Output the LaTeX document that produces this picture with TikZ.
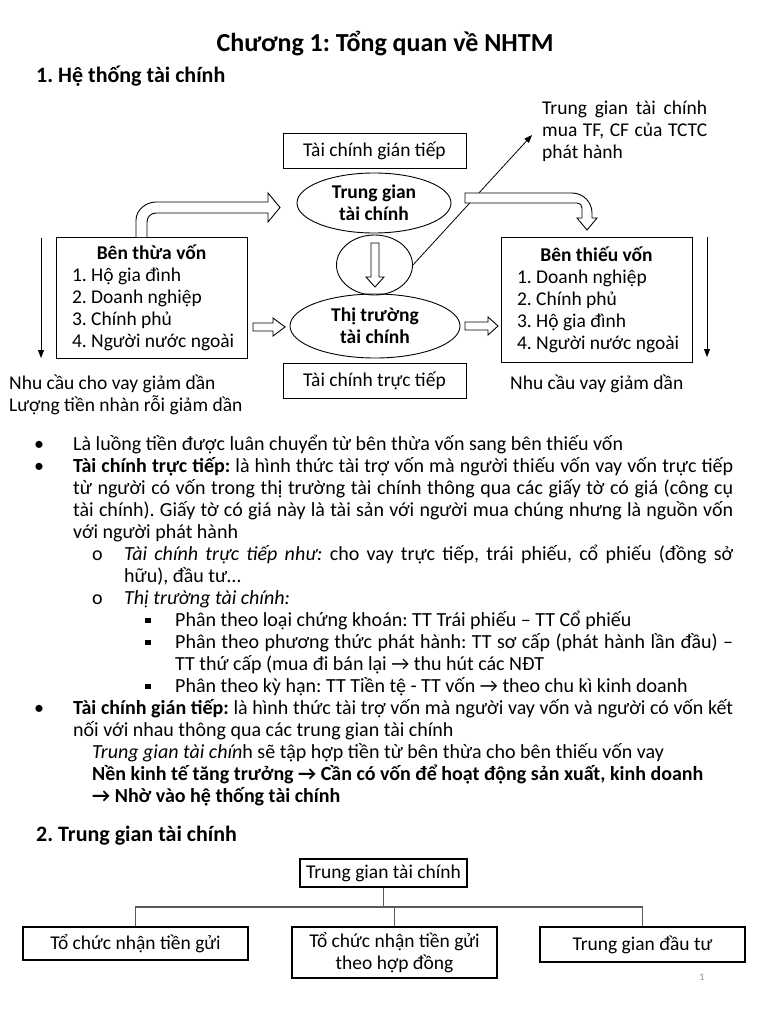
\documentclass[tikz,border=0pt]{standalone}
\usepackage{fontspec}
\setmainfont{Carlito}
\usetikzlibrary{shapes.geometric,arrows.meta}
\frenchspacing
\newcommand\jl[2]{\par\noindent\hspace*{#1}\makebox[\dimexpr733pt-#1\relax][s]{#2}}
\newcommand\pl[2]{\par\noindent\hspace*{#1}#2}
\newcommand\bdot{\llap{\makebox[39pt][l]{•}}}
\newcommand\bcirc{\llap{\makebox[32pt][l]{o}}}
\newcommand\bsq{\llap{\makebox[30pt][l]{\raisebox{3pt}{\rule{5.5pt}{5.5pt}}}}}
\newcommand\listtext[2]{\parbox{179pt}{\centering\textbf{#1}\par\raggedright\leftskip=10pt #2}}
\begin{document}
\begin{tikzpicture}[x=1pt,y=-1pt,
  dtext/.style={font=\fontsize{19.5}{22}\selectfont\frenchspacing},
  plainbox/.style={draw, line width=0.9pt, inner sep=0pt, dtext},
  listbox/.style={draw, line width=0.9pt, inner sep=0pt, dtext},
  oval/.style={ellipse, draw, line width=0.9pt, inner sep=0pt, align=center, font=\fontsize{19.5}{22}\selectfont\bfseries},
  hollow/.style={draw, line width=0.9pt, fill=white, line join=miter},
  thinarrow/.style={-{Triangle[length=8pt,width=6pt]}, line width=0.8pt},
  orgbox/.style={draw, line width=1.5pt, inner sep=0pt, align=center, dtext},
  orgline/.style={draw=black!65, line width=1.2pt}]
\useasboundingbox (0,0) rectangle (768,1024);
\fill[white] (0,0) rectangle (768,1024);

% headings
\node[anchor=base, inner sep=0pt, font=\fontsize{26}{30}\selectfont\bfseries] (title) at (385,52) {Chương 1: Tổng quan về NHTM};
\node[anchor=base west, inner sep=0pt, font=\fontsize{22}{26}\selectfont\bfseries] (h1) at (36,83) {1. Hệ thống tài chính};

% diagram 1
\node[plainbox, minimum width=183pt, minimum height=35pt] (gt) at (374.5,150.5) {Tài chính gián tiếp};
\node[plainbox, minimum width=183pt, minimum height=35pt] (tt) at (374.5,380.5) {Tài chính trực tiếp};
\node[oval, minimum width=154pt, minimum height=60pt] (tg) at (374,203) {Trung gian\\tài chính};
\node[ellipse, draw, line width=0.9pt, minimum width=76pt, minimum height=60pt, inner sep=0pt] (circ) at (374.5,265) {};
\node[oval, minimum width=170pt, minimum height=64pt] (ttc) at (375,326) {Thị trường\\tài chính};

\node[listbox, minimum width=191pt, minimum height=121pt] (thua) at (151.5,297.5)
  {\listtext{Bên thừa vốn}{1. Hộ gia đình\\2. Doanh nghiệp\\3. Chính phủ\\4. Người nước ngoài}};
\node[listbox, minimum width=191pt, minimum height=125pt] (thieu) at (596.5,299.5)
  {\listtext{Bên thiếu vốn}{1. Doanh nghiệp\\2. Chính phủ\\3. Hộ gia đình\\4. Người nước ngoài}};

\node[anchor=base west, inner sep=0pt, dtext, align=left] (lbl1) at (9,411) {Nhu cầu cho vay giảm dần\\Lượng tiền nhàn rỗi giảm dần};
\node[anchor=base west, inner sep=0pt, dtext] (lbl2) at (510,389) {Nhu cầu vay giảm dần};
\node[anchor=base west, inner sep=0pt, dtext, align=left] (note) at (542,159)
  {\makebox[165pt][s]{Trung gian tài chính}\\\makebox[165pt][s]{mua TF, CF của TCTC}\\phát hành};

% thin arrows
\coordinate (la1) at (41,238); \coordinate (la2) at (41,358);
\coordinate (ra1) at (707,237); \coordinate (ra2) at (707,357);
\coordinate (tip) at (532,135);
\draw[thinarrow] (la1) -- (la2);
\draw[thinarrow] (ra1) -- (ra2);
\draw[thinarrow] (circ.east) -- (tip);

% hollow block arrows
\draw[hollow] (136,237) -- (136,220) .. controls (136,210) and (146,202) .. (156,202) -- (268,202) -- (268,193) -- (280,207.5) -- (268,222) -- (268,213) -- (156,213) .. controls (151,213) and (147,217) .. (147,222) -- (147,237);
\draw[hollow] (465,193) -- (572,193) .. controls (583,193) and (592,202) .. (592,213) -- (592,218) -- (597,218) -- (587,230) -- (577,218) -- (582,218) -- (582,208) .. controls (582,205) and (580,203) .. (577,203) -- (465,203) -- cycle;
\draw[hollow] (371,243) -- (379,243) -- (379,277) -- (384,277) -- (375,287) -- (366,277) -- (371,277) -- cycle;
\draw[hollow] (253,323) -- (273,323) -- (273,318) -- (285,327) -- (273,336) -- (273,331) -- (253,331) -- cycle;
\draw[hollow] (465,322) -- (488,322) -- (488,317) -- (498,326) -- (488,335) -- (488,330) -- (465,330) -- cycle;

% bullet text
\node[anchor=base west, inner sep=0pt] (body) at (0,450) {\begin{minipage}[t]{733pt}\fontsize{20}{22}\selectfont\frenchspacing\lineskiplimit=-20pt\parindent=0pt
\pl{73pt}{\bdot Là luồng tiền được luân chuyển từ bên thừa vốn sang bên thiếu vốn}
\jl{73pt}{\bdot\textbf{Tài chính trực tiếp:} là hình thức tài trợ vốn mà người thiếu vốn vay vốn trực tiếp}
\jl{73pt}{từ người có vốn trong thị trường tài chính thông qua các giấy tờ có giá (công cụ}
\jl{73pt}{tài chính). Giấy tờ có giá này là tài sản với người mua chúng nhưng là nguồn vốn}
\pl{73pt}{với người phát hành}
\jl{124pt}{\bcirc\textit{Tài chính trực tiếp như:} cho vay trực tiếp, trái phiếu, cổ phiếu (đồng sở}
\pl{124pt}{hữu), đầu tư…}
\pl{124pt}{\bcirc\textit{Thị trường tài chính:}}
\pl{175pt}{\bsq Phân theo loại chứng khoán: TT Trái phiếu – TT Cổ phiếu}
\jl{175pt}{\bsq Phân theo phương thức phát hành: TT sơ cấp (phát hành lần đầu) –}
\pl{175pt}{TT thứ cấp (mua đi bán lại → thu hút các NĐT}
\pl{175pt}{\bsq Phân theo kỳ hạn: TT Tiền tệ - TT vốn → theo chu kì kinh doanh}
\jl{73pt}{\bdot\textbf{Tài chính gián tiếp:} là hình thức tài trợ vốn mà người vay vốn và người có vốn kết}
\pl{73pt}{nối với nhau thông qua các trung gian tài chính}
\pl{92pt}{\textit{Trung gian tài chín}h sẽ tập hợp tiền từ bên thừa cho bên thiếu vốn vay}
\pl{92pt}{\textbf{Nền kinh tế tăng trưởng → Cần có vốn để hoạt động sản xuất, kinh doanh}}
\pl{92pt}{\textbf{→ Nhờ vào hệ thống tài chính}}\par
\end{minipage}};

% section 2
\node[anchor=base west, inner sep=0pt, font=\fontsize{22}{26}\selectfont\bfseries] (h2) at (36,841) {2. Trung gian tài chính};
\node[orgbox, minimum width=167pt, minimum height=28pt] (top) at (383.5,873) {Trung gian tài chính};
\node[orgbox, minimum width=225pt, minimum height=33pt] (b1) at (135.5,943.5) {Tổ chức nhận tiền gửi};
\node[orgbox, minimum width=205pt, minimum height=51pt] (b2) at (394.5,952.5) {Tổ chức nhận tiền gửi\\theo hợp đồng};
\node[orgbox, minimum width=205pt, minimum height=35pt] (b3) at (642.5,944.5) {Trung gian đầu tư};
\coordinate (bus) at (383.5,907);
\draw[orgline] (top.south) -- (bus);
\draw[orgline] (b1.north) |- (bus);
\draw[orgline] (b3.north) |- (bus);
\draw[orgline] (b2.north) -- (b2.north |- bus);
\node[text=black!45, inner sep=0pt, font=\fontsize{10}{12}\selectfont] (pg) at (702,977) {1};
\end{tikzpicture}
\end{document}
